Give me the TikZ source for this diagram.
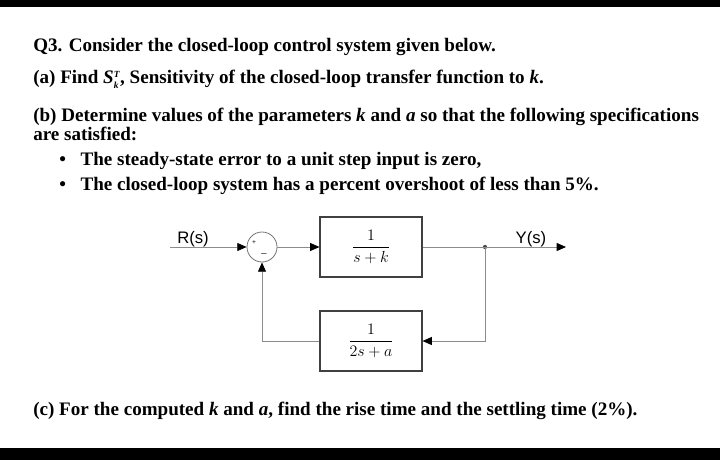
\documentclass[tikz,border=0pt]{standalone}
\usepackage{fontspec}
\setmainfont{Liberation Serif}
\newfontfamily\arial{Liberation Sans}
\usetikzlibrary{arrows.meta}
\begin{document}
\begin{tikzpicture}[x=0.75pt,y=-0.75pt,
  txt/.style={anchor=base west,inner sep=0,font=\bfseries\fontsize{14.3}{16}\selectfont},
  blk/.style={draw=black!75,line width=0.8pt,minimum width=76.5pt,minimum height=45pt,inner sep=0,fill=white},
  wire/.style={draw=black!45,line width=0.6pt},
  arr/.style={wire,-{Triangle[length=7pt,width=6pt,fill=black,color=black]}},
  lab/.style={font=\arial\fontsize{12.5}{13}\selectfont,inner sep=0}]
\useasboundingbox (0,0) rectangle (720,460);
\fill[black] (0,0) rectangle (720,7);
\fill[black] (0,448) rectangle (720,460);
\node[txt] (t1) at (33,51) {Q3. Consider the closed-loop control system given below.};
\node[txt] (t2) at (33,84) {(a) Find \textit{S}$^{\textit{\scriptsize T}}_{\textit{\scriptsize k}}$, Sensitivity of the closed-loop transfer function to \textit{k}.};
\node[txt] (t3) at (33,121) {(b) Determine values of the parameters \textit{k} and \textit{a} so that the following specifications};
\node[txt] (t4) at (33,140) {are satisfied:};
\node[txt] (t5) at (59,165) {\textbullet\hspace{11pt}The steady-state error to a unit step input is zero,};
\node[txt] (t6) at (59,190) {\textbullet\hspace{11pt}The closed-loop system has a percent overshoot of less than 5\%.};
\node[txt] (t7) at (33,415) {(c) For the computed \textit{k} and \textit{a}, find the rise time and the settling time (2\%).};

\coordinate (in) at (170,247);
\node[lab] (R) at (193,239) {R(s)};
\node[draw=black!55,line width=0.6pt,circle,minimum size=22.5pt,inner sep=0] (sum) at (262,247) {};
\node[font=\arial\fontsize{5}{5}\selectfont,inner sep=0] at (254,243) {+};
\node[font=\arial\fontsize{7}{7}\selectfont,inner sep=0] at (264,253) {\_};
\node[blk] (g) at (371,247) {\fontsize{13}{14}\selectfont$\displaystyle\frac{1}{s+k}$};
\node[blk] (h) at (371,341) {\fontsize{13}{14}\selectfont$\displaystyle\frac{1}{2s+a}$};
\coordinate (dot) at (485,247);
\fill[black!70] (dot) circle (1.6pt);
\coordinate (out) at (566,247);
\node[lab] (Y) at (531,239) {Y(s)};
\draw[arr] (in) -- (sum.west);
\draw[arr] (sum.east) -- (g.west);
\draw[wire] (g.east) -- (dot);
\draw[arr] (dot) -- (out);
\draw[arr] (dot) |- (h.east);
\draw[arr] (h.west) -| (sum.south);
\end{tikzpicture}
\end{document}
